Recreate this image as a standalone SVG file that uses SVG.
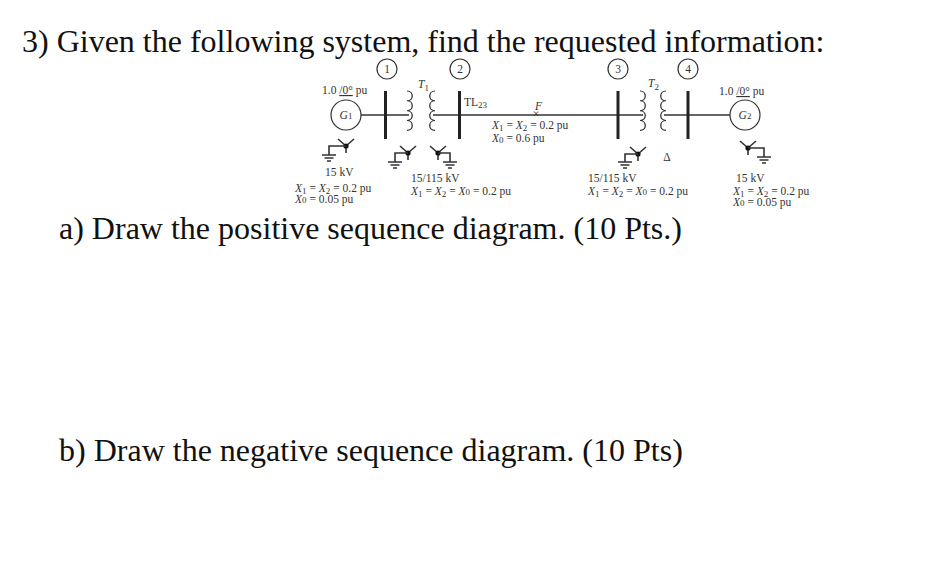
<svg xmlns="http://www.w3.org/2000/svg" width="947" height="580" viewBox="0 0 947 580">
<style>
text{font-family:"Liberation Serif","Times New Roman",serif}
.h{font-size:32px;fill:#111}
.s{font-size:11.5px;fill:#333}
.i{font-style:italic}
.sub{font-size:9px}
.ln{fill:none;stroke:#333;stroke-width:1.6}
.bus{stroke:#222;stroke-width:3;fill:none}
.coil{fill:none;stroke:#333;stroke-width:1.3}
.c{fill:#fff;stroke:#333;stroke-width:1.2}
.m{text-anchor:middle}
</style>
<defs>
<g id="gnd"><path class="ln" d="M-7 0H7M-4.500 3H4.500M-2 6H2" stroke-width="1.200"/></g>
<g id="wye"><path class="ln" d="M-8-7L0 0L8-7M0 0V7"/><circle r="2.600" fill="#111"/></g>
<path id="coilR" class="coil" d="M0 0c7 0 7 12 0 12c7 0 7 12 0 12c7 0 7 12 0 12c7 0 7 12 0 12" transform="scale(1,0.82)"/>
<path id="coilL" class="coil" d="M0 0c-7 0-7 12 0 12c-7 0-7 12 0 12c-7 0-7 12 0 12c-7 0-7 12 0 12" transform="scale(1,0.82)"/>
</defs>
<rect width="947" height="580" fill="#fff"/>
<text class="h" x="22" y="52">3) Given the following system, find the requested information:</text>
<text class="h" x="59" y="239">a) Draw the positive sequence diagram.  (10 Pts.)</text>
<text class="h" x="59" y="461">b) Draw the negative sequence diagram.  (10 Pts)</text>
<g id="connectors">
<path class="ln" d="M361 115H409M433 115H618M618 115H643M664 115H730"/>
</g>
<g id="bus1"><path class="bus" d="M385.500 91V139"/><circle class="c" cx="387" cy="69" r="10"/><text class="s m" x="387" y="73">1</text></g>
<g id="bus2"><path class="bus" d="M459.500 91V139"/><circle class="c" cx="460" cy="69" r="10"/><text class="s m" x="460" y="73">2</text><text class="s" x="464" y="106">TL<tspan class="sub" dy="2">23</tspan></text></g>
<g id="bus3"><path class="bus" d="M618 91V139"/><circle class="c" cx="618" cy="69" r="10"/><text class="s m" x="618" y="73">3</text></g>
<g id="bus4"><path class="bus" d="M688 91V139"/><circle class="c" cx="688" cy="69" r="10"/><text class="s m" x="688" y="73">4</text></g>
<g id="G1"><circle class="c" cx="346" cy="115" r="15"/><text class="s m" x="346" y="119"><tspan class="i">G</tspan><tspan class="sub">1</tspan></text>
<text class="s" x="322" y="94">1.0 <tspan text-decoration="underline">/0°</tspan> pu</text>
<use href="#wye" x="346" y="146"/><path class="ln" d="M346 146H329V155"/><use href="#gnd" x="329" y="155"/></g>
<g id="T1"><use href="#coilR" x="407" y="91"/><use href="#coilL" x="435" y="91"/>
<text class="s i" x="418" y="88">T<tspan class="sub" dy="3" font-style="normal">1</tspan></text>
<use href="#wye" x="408" y="153"/><path class="ln" d="M408 153H395V162"/><use href="#gnd" x="395" y="162"/>
<use href="#wye" x="438" y="153"/><path class="ln" d="M438 153H450V162"/><use href="#gnd" x="450" y="162"/></g>
<g id="F"><text class="s i" x="535" y="110">F</text><text class="s m" x="536" y="118">×</text></g>
<g id="T2"><use href="#coilR" x="640" y="91"/><use href="#coilL" x="666" y="91"/>
<text class="s i" x="648" y="87">T<tspan class="sub" dy="3" font-style="normal">2</tspan></text>
<use href="#wye" x="638" y="154"/><path class="ln" d="M638 154H625V162"/><use href="#gnd" x="625" y="162"/>
<text class="s m" x="667" y="161">Δ</text></g>
<g id="G2"><circle class="c" cx="745" cy="115" r="15"/><text class="s m" x="745" y="119"><tspan class="i">G</tspan><tspan class="sub">2</tspan></text>
<text class="s" x="719" y="95">1.0 <tspan text-decoration="underline">/0°</tspan> pu</text>
<use href="#wye" x="748" y="148"/><path class="ln" d="M748 148H764V157"/><use href="#gnd" x="764" y="157"/></g>
<g id="labels">
<text class="s" x="492" y="129"><tspan class="i">X</tspan><tspan class="sub" dy="2">1</tspan><tspan dy="-2"> = </tspan><tspan class="i">X</tspan><tspan class="sub" dy="2">2</tspan><tspan dy="-2"> = 0.2 pu</tspan></text>
<text class="s" x="492" y="142"><tspan class="i">X</tspan><tspan class="sub" dy="1">0</tspan><tspan dy="-1"> = 0.6 pu</tspan></text>
<text class="s" x="325" y="176">15 kV</text>
<text class="s" x="295" y="192"><tspan class="i">X</tspan><tspan class="sub" dy="2">1</tspan><tspan dy="-2"> = </tspan><tspan class="i">X</tspan><tspan class="sub" dy="2">2</tspan><tspan dy="-2"> = 0.2 pu</tspan></text>
<text class="s" x="295" y="203"><tspan class="i">X</tspan><tspan class="sub">0</tspan> = 0.05 pu</text>
<text class="s" x="411" y="182">15/115 kV</text>
<text class="s" x="411" y="195"><tspan class="i">X</tspan><tspan class="sub" dy="2">1</tspan><tspan dy="-2"> = </tspan><tspan class="i">X</tspan><tspan class="sub" dy="2">2</tspan><tspan dy="-2"> = </tspan><tspan class="i">X</tspan><tspan class="sub">0</tspan> = 0.2 pu</text>
<text class="s" x="588" y="182">15/115 kV</text>
<text class="s" x="588" y="195"><tspan class="i">X</tspan><tspan class="sub" dy="2">1</tspan><tspan dy="-2"> = </tspan><tspan class="i">X</tspan><tspan class="sub" dy="2">2</tspan><tspan dy="-2"> = </tspan><tspan class="i">X</tspan><tspan class="sub">0</tspan> = 0.2 pu</text>
<text class="s" x="736" y="182">15 kV</text>
<text class="s" x="733" y="195"><tspan class="i">X</tspan><tspan class="sub" dy="2">1</tspan><tspan dy="-2"> = </tspan><tspan class="i">X</tspan><tspan class="sub" dy="2">2</tspan><tspan dy="-2"> = 0.2 pu</tspan></text>
<text class="s" x="733" y="206"><tspan class="i">X</tspan><tspan class="sub">0</tspan> = 0.05 pu</text>
</g>
</svg>
